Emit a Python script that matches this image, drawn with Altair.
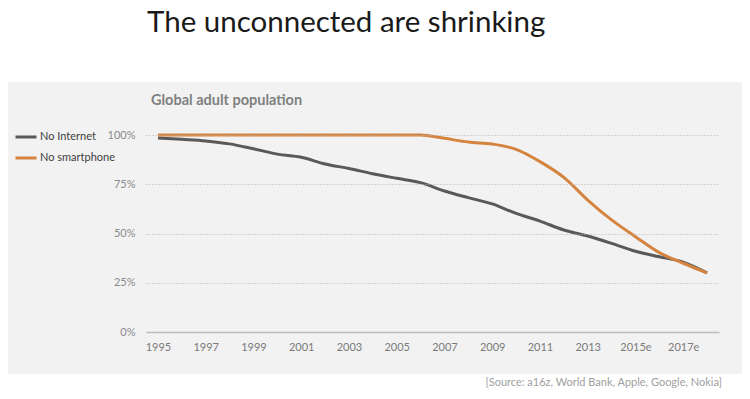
import altair as alt
import pandas as pd

years = ["1995", "1996", "1997", "1998", "1999", "2000", "2001", "2002", "2003",
         "2004", "2005", "2006", "2007", "2008", "2009", "2010", "2011", "2012",
         "2013", "2014", "2015e", "2016e", "2017e", "2018e"]
shown_labels = ["1995", "1997", "1999", "2001", "2003", "2005", "2007", "2009",
                "2011", "2013", "2015e", "2017e"]
no_internet = [98.5, 97.8, 97.0, 95.5, 93.0, 90.3, 88.7, 85.3, 83.0, 80.3, 78.0, 75.8,
               71.6, 68.2, 65.0, 60.2, 56.3, 51.8, 48.7, 45.0, 41.0, 38.2, 35.5, 30.0]
no_smartphone = [100, 100, 100, 100, 100, 100, 100, 100, 100, 100, 100, 100,
                 98.3, 96.4, 95.4, 92.7, 86.5, 78.5, 67.0, 56.9, 48.4, 40.3, 34.9, 30.0]
series_names = ["No Internet", "No smartphone"]
series_colors = ["#595959", "#d4843f"]
y_ticks = [0, 0.25, 0.5, 0.75, 1.0]

title_text = "The unconnected are shrinking"
subtitle_text = "Global adult population"
source_text = "[Source: a16z, World Bank, Apple, Google, Nokia]"

rows = []
for i, yr in enumerate(years):
    rows.append({"year": yr, "series": series_names[0], "value": no_internet[i] / 100})
    rows.append({"year": yr, "series": series_names[1], "value": no_smartphone[i] / 100})
df = pd.DataFrame(rows)

FONT = "Lato"

# plot area: x 146..719, y 135..332 (absolute page coords)
panel = alt.Chart(alt.Data(values=[{}])).mark_rect(color="#f2f2f2").encode(
    x=alt.value(-138), x2=alt.value(596), y=alt.value(-53), y2=alt.value(239)
)

lines = alt.Chart(df).mark_line(strokeWidth=3, interpolate="monotone").encode(
    x=alt.X("year:N", sort=years, title=None,
            scale=alt.Scale(domain=years, paddingInner=0, paddingOuter=0),
            axis=alt.Axis(values=shown_labels, labelAngle=0, ticks=False,
                          domainColor="#bdbdbd", domainWidth=1.5, zindex=1,
                          labelPadding=9, labelFontSize=11, labelColor="#7a7a7a",
                          labelFont=FONT, grid=False)),
    y=alt.Y("value:Q", title=None,
            scale=alt.Scale(domain=[0, 1]),
            axis=alt.Axis(values=y_ticks, format=".0%", domain=False, ticks=False,
                          zindex=1,
                          labelPadding=11, labelFontSize=11, labelColor="#8a8a8a",
                          labelFont=FONT, grid=True, gridColor="#b5b5b5",
                          gridDash=[1, 2], gridWidth=1)),
    color=alt.Color("series:N", title=None,
                    scale=alt.Scale(domain=series_names, range=series_colors),
                    legend=alt.Legend(orient="none", legendX=-132, legendY=-10,
                                      symbolType="stroke", symbolStrokeWidth=3,
                                      symbolSize=441, labelFontSize=11,
                                      labelColor="#404040", labelFont=FONT,
                                      labelOffset=2, rowPadding=3)),
)

title = alt.Chart(alt.Data(values=[{}])).mark_text(
    align="left", baseline="alphabetic", fontSize=29.5, font=FONT, color="#1a1a1a"
).encode(x=alt.value(1), y=alt.value(-103), text=alt.value(title_text))

subtitle = alt.Chart(alt.Data(values=[{}])).mark_text(
    align="left", baseline="alphabetic", fontSize=14.5, font=FONT, fontWeight="bold",
    color="#808080"
).encode(x=alt.value(5), y=alt.value(-30), text=alt.value(subtitle_text))

source = alt.Chart(alt.Data(values=[{}])).mark_text(
    align="right", baseline="alphabetic", fontSize=11, font=FONT, color="#a0a0a0"
).encode(x=alt.value(576), y=alt.value(251), text=alt.value(source_text))

chart = alt.layer(panel, lines, title, subtitle, source).properties(
    width=573, height=197,
    autosize=alt.AutoSizeParams(type="none"),
    padding={"left": 138, "top": 127, "right": 23, "bottom": 56},
    background="white",
).configure_view(stroke=None)

chart.save("out.html", embed_options={"renderer": "svg", "actions": False})
